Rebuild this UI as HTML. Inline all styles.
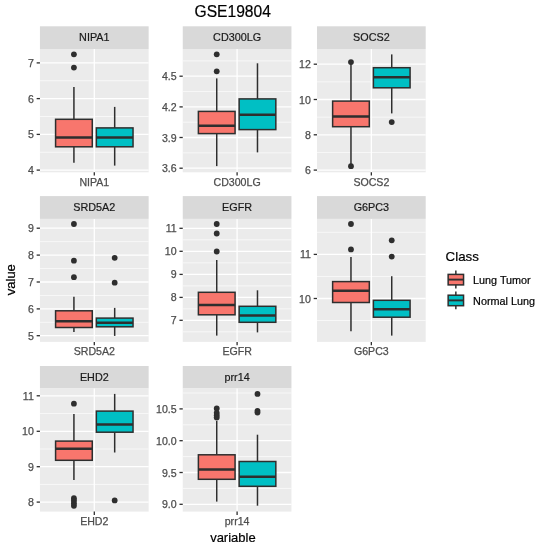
<!DOCTYPE html>
<html lang="en"><head><meta charset="utf-8"><title>GSE19804</title>
<style>html,body{margin:0;padding:0;background:#fff}svg{display:block}</style>
</head><body>
<svg width="539" height="550" viewBox="0 0 539 550" font-family="Liberation Sans, Arial, sans-serif">
<rect width="539" height="550" fill="#fff"/>
<text x="232.7" y="16.7" font-size="15.6" text-anchor="middle" fill="#000" stroke="#000" stroke-width="0.2">GSE19804</text>
<g>
<rect x="39.95" y="26.3" width="108.7" height="22.70" fill="#D9D9D9"/>
<rect x="39.95" y="49.0" width="108.7" height="123.30" fill="#EBEBEB"/>
<line x1="39.95" x2="148.65" y1="80.75" y2="80.75" stroke="#fff" stroke-width="0.65"/>
<line x1="39.95" x2="148.65" y1="116.50" y2="116.50" stroke="#fff" stroke-width="0.65"/>
<line x1="39.95" x2="148.65" y1="152.25" y2="152.25" stroke="#fff" stroke-width="0.65"/>
<line x1="39.95" x2="148.65" y1="62.9" y2="62.9" stroke="#fff" stroke-width="1.3"/>
<line x1="39.95" x2="148.65" y1="98.6" y2="98.6" stroke="#fff" stroke-width="1.3"/>
<line x1="39.95" x2="148.65" y1="134.4" y2="134.4" stroke="#fff" stroke-width="1.3"/>
<line x1="39.95" x2="148.65" y1="170.1" y2="170.1" stroke="#fff" stroke-width="1.3"/>
<line x1="94.30" x2="94.30" y1="49.0" y2="172.3" stroke="#fff" stroke-width="1.3"/>
<circle cx="73.92" cy="54.3" r="2.9" fill="#2E2E2E"/>
<circle cx="73.92" cy="67.6" r="2.9" fill="#2E2E2E"/>
<line x1="73.92" x2="73.92" y1="86.9" y2="119.3" stroke="#2E2E2E" stroke-width="1.5"/>
<line x1="73.92" x2="73.92" y1="146.8" y2="162.7" stroke="#2E2E2E" stroke-width="1.5"/>
<rect x="55.58" y="119.3" width="36.69" height="27.50" fill="#F8766D" stroke="#2E2E2E" stroke-width="1.5"/>
<line x1="55.58" x2="92.26" y1="137.5" y2="137.5" stroke="#2E2E2E" stroke-width="2.5"/>
<line x1="114.68" x2="114.68" y1="106.9" y2="127.9" stroke="#2E2E2E" stroke-width="1.5"/>
<line x1="114.68" x2="114.68" y1="146.8" y2="165.6" stroke="#2E2E2E" stroke-width="1.5"/>
<rect x="96.34" y="127.9" width="36.69" height="18.90" fill="#00BFC4" stroke="#2E2E2E" stroke-width="1.5"/>
<line x1="96.34" x2="133.02" y1="137.4" y2="137.4" stroke="#2E2E2E" stroke-width="2.5"/>
<text x="94.30" y="41.45" font-size="10.8" text-anchor="middle" fill="#1A1A1A" stroke="#1A1A1A" stroke-width="0.2">NIPA1</text>
<line x1="36.65" x2="39.95" y1="62.9" y2="62.9" stroke="#2E2E2E" stroke-width="1.3"/>
<text x="33.85"  y="66.95" font-size="10.6" text-anchor="end" fill="#4D4D4D" stroke="#4D4D4D" stroke-width="0.25">7</text>
<line x1="36.65" x2="39.95" y1="98.6" y2="98.6" stroke="#2E2E2E" stroke-width="1.3"/>
<text x="33.85"  y="102.65" font-size="10.6" text-anchor="end" fill="#4D4D4D" stroke="#4D4D4D" stroke-width="0.25">6</text>
<line x1="36.65" x2="39.95" y1="134.4" y2="134.4" stroke="#2E2E2E" stroke-width="1.3"/>
<text x="33.85"  y="138.45" font-size="10.6" text-anchor="end" fill="#4D4D4D" stroke="#4D4D4D" stroke-width="0.25">5</text>
<line x1="36.65" x2="39.95" y1="170.1" y2="170.1" stroke="#2E2E2E" stroke-width="1.3"/>
<text x="33.85"  y="174.15" font-size="10.6" text-anchor="end" fill="#4D4D4D" stroke="#4D4D4D" stroke-width="0.25">4</text>
<line x1="94.30" x2="94.30" y1="172.3" y2="175.60" stroke="#2E2E2E" stroke-width="1.3"/>
<text x="94.30" y="185.75" font-size="10.6" text-anchor="middle" fill="#4D4D4D" stroke="#4D4D4D" stroke-width="0.25">NIPA1</text>
</g>
<g>
<rect x="182.75" y="26.3" width="108.7" height="22.70" fill="#D9D9D9"/>
<rect x="182.75" y="49.0" width="108.7" height="123.30" fill="#EBEBEB"/>
<line x1="182.75" x2="291.45" y1="91.55" y2="91.55" stroke="#fff" stroke-width="0.65"/>
<line x1="182.75" x2="291.45" y1="122.20" y2="122.20" stroke="#fff" stroke-width="0.65"/>
<line x1="182.75" x2="291.45" y1="152.85" y2="152.85" stroke="#fff" stroke-width="0.65"/>
<line x1="182.75" x2="291.45" y1="60.90" y2="60.90" stroke="#fff" stroke-width="0.65"/>
<line x1="182.75" x2="291.45" y1="76.2" y2="76.2" stroke="#fff" stroke-width="1.3"/>
<line x1="182.75" x2="291.45" y1="106.9" y2="106.9" stroke="#fff" stroke-width="1.3"/>
<line x1="182.75" x2="291.45" y1="137.5" y2="137.5" stroke="#fff" stroke-width="1.3"/>
<line x1="182.75" x2="291.45" y1="168.2" y2="168.2" stroke="#fff" stroke-width="1.3"/>
<line x1="237.10" x2="237.10" y1="49.0" y2="172.3" stroke="#fff" stroke-width="1.3"/>
<circle cx="216.72" cy="54.3" r="2.9" fill="#2E2E2E"/>
<circle cx="216.72" cy="71.3" r="2.9" fill="#2E2E2E"/>
<line x1="216.72" x2="216.72" y1="78.4" y2="111.4" stroke="#2E2E2E" stroke-width="1.5"/>
<line x1="216.72" x2="216.72" y1="133.6" y2="166.1" stroke="#2E2E2E" stroke-width="1.5"/>
<rect x="198.38" y="111.4" width="36.69" height="22.20" fill="#F8766D" stroke="#2E2E2E" stroke-width="1.5"/>
<line x1="198.38" x2="235.06" y1="125.8" y2="125.8" stroke="#2E2E2E" stroke-width="2.5"/>
<line x1="257.48" x2="257.48" y1="63.3" y2="98.9" stroke="#2E2E2E" stroke-width="1.5"/>
<line x1="257.48" x2="257.48" y1="129.6" y2="152.4" stroke="#2E2E2E" stroke-width="1.5"/>
<rect x="239.14" y="98.9" width="36.69" height="30.70" fill="#00BFC4" stroke="#2E2E2E" stroke-width="1.5"/>
<line x1="239.14" x2="275.82" y1="114.7" y2="114.7" stroke="#2E2E2E" stroke-width="2.5"/>
<text x="237.10" y="41.45" font-size="10.8" text-anchor="middle" fill="#1A1A1A" stroke="#1A1A1A" stroke-width="0.2">CD300LG</text>
<line x1="179.45" x2="182.75" y1="76.2" y2="76.2" stroke="#2E2E2E" stroke-width="1.3"/>
<text x="176.65"  y="80.25" font-size="10.6" text-anchor="end" fill="#4D4D4D" stroke="#4D4D4D" stroke-width="0.25">4.5</text>
<line x1="179.45" x2="182.75" y1="106.9" y2="106.9" stroke="#2E2E2E" stroke-width="1.3"/>
<text x="176.65"  y="110.95" font-size="10.6" text-anchor="end" fill="#4D4D4D" stroke="#4D4D4D" stroke-width="0.25">4.2</text>
<line x1="179.45" x2="182.75" y1="137.5" y2="137.5" stroke="#2E2E2E" stroke-width="1.3"/>
<text x="176.65"  y="141.55" font-size="10.6" text-anchor="end" fill="#4D4D4D" stroke="#4D4D4D" stroke-width="0.25">3.9</text>
<line x1="179.45" x2="182.75" y1="168.2" y2="168.2" stroke="#2E2E2E" stroke-width="1.3"/>
<text x="176.65"  y="172.25" font-size="10.6" text-anchor="end" fill="#4D4D4D" stroke="#4D4D4D" stroke-width="0.25">3.6</text>
<line x1="237.10" x2="237.10" y1="172.3" y2="175.60" stroke="#2E2E2E" stroke-width="1.3"/>
<text x="237.10" y="185.75" font-size="10.6" text-anchor="middle" fill="#4D4D4D" stroke="#4D4D4D" stroke-width="0.25">CD300LG</text>
</g>
<g>
<rect x="317.0" y="26.3" width="108.7" height="22.70" fill="#D9D9D9"/>
<rect x="317.0" y="49.0" width="108.7" height="123.30" fill="#EBEBEB"/>
<line x1="317.0" x2="425.7" y1="81.85" y2="81.85" stroke="#fff" stroke-width="0.65"/>
<line x1="317.0" x2="425.7" y1="117.15" y2="117.15" stroke="#fff" stroke-width="0.65"/>
<line x1="317.0" x2="425.7" y1="152.45" y2="152.45" stroke="#fff" stroke-width="0.65"/>
<line x1="317.0" x2="425.7" y1="64.2" y2="64.2" stroke="#fff" stroke-width="1.3"/>
<line x1="317.0" x2="425.7" y1="99.5" y2="99.5" stroke="#fff" stroke-width="1.3"/>
<line x1="317.0" x2="425.7" y1="134.8" y2="134.8" stroke="#fff" stroke-width="1.3"/>
<line x1="317.0" x2="425.7" y1="170.1" y2="170.1" stroke="#fff" stroke-width="1.3"/>
<line x1="371.35" x2="371.35" y1="49.0" y2="172.3" stroke="#fff" stroke-width="1.3"/>
<circle cx="350.97" cy="62.1" r="2.9" fill="#2E2E2E"/>
<circle cx="350.97" cy="166.2" r="2.9" fill="#2E2E2E"/>
<line x1="350.97" x2="350.97" y1="63.0" y2="101.1" stroke="#2E2E2E" stroke-width="1.5"/>
<line x1="350.97" x2="350.97" y1="126.7" y2="165.5" stroke="#2E2E2E" stroke-width="1.5"/>
<rect x="332.63" y="101.1" width="36.69" height="25.60" fill="#F8766D" stroke="#2E2E2E" stroke-width="1.5"/>
<line x1="332.63" x2="369.31" y1="116.5" y2="116.5" stroke="#2E2E2E" stroke-width="2.5"/>
<circle cx="391.73" cy="122.1" r="2.9" fill="#2E2E2E"/>
<line x1="391.73" x2="391.73" y1="54.4" y2="67.7" stroke="#2E2E2E" stroke-width="1.5"/>
<line x1="391.73" x2="391.73" y1="87.8" y2="113.4" stroke="#2E2E2E" stroke-width="1.5"/>
<rect x="373.39" y="67.7" width="36.69" height="20.10" fill="#00BFC4" stroke="#2E2E2E" stroke-width="1.5"/>
<line x1="373.39" x2="410.07" y1="77.3" y2="77.3" stroke="#2E2E2E" stroke-width="2.5"/>
<text x="371.35" y="41.45" font-size="10.8" text-anchor="middle" fill="#1A1A1A" stroke="#1A1A1A" stroke-width="0.2">SOCS2</text>
<line x1="313.70" x2="317.0" y1="64.2" y2="64.2" stroke="#2E2E2E" stroke-width="1.3"/>
<text x="310.90"  y="68.25" font-size="10.6" text-anchor="end" fill="#4D4D4D" stroke="#4D4D4D" stroke-width="0.25">12</text>
<line x1="313.70" x2="317.0" y1="99.5" y2="99.5" stroke="#2E2E2E" stroke-width="1.3"/>
<text x="310.90"  y="103.55" font-size="10.6" text-anchor="end" fill="#4D4D4D" stroke="#4D4D4D" stroke-width="0.25">10</text>
<line x1="313.70" x2="317.0" y1="134.8" y2="134.8" stroke="#2E2E2E" stroke-width="1.3"/>
<text x="310.90"  y="138.85" font-size="10.6" text-anchor="end" fill="#4D4D4D" stroke="#4D4D4D" stroke-width="0.25">8</text>
<line x1="313.70" x2="317.0" y1="170.1" y2="170.1" stroke="#2E2E2E" stroke-width="1.3"/>
<text x="310.90"  y="174.15" font-size="10.6" text-anchor="end" fill="#4D4D4D" stroke="#4D4D4D" stroke-width="0.25">6</text>
<line x1="371.35" x2="371.35" y1="172.3" y2="175.60" stroke="#2E2E2E" stroke-width="1.3"/>
<text x="371.35" y="185.75" font-size="10.6" text-anchor="middle" fill="#4D4D4D" stroke="#4D4D4D" stroke-width="0.25">SOCS2</text>
</g>
<g>
<rect x="39.95" y="196.1" width="108.7" height="22.80" fill="#D9D9D9"/>
<rect x="39.95" y="218.9" width="108.7" height="123.00" fill="#EBEBEB"/>
<line x1="39.95" x2="148.65" y1="241.65" y2="241.65" stroke="#fff" stroke-width="0.65"/>
<line x1="39.95" x2="148.65" y1="268.55" y2="268.55" stroke="#fff" stroke-width="0.65"/>
<line x1="39.95" x2="148.65" y1="295.45" y2="295.45" stroke="#fff" stroke-width="0.65"/>
<line x1="39.95" x2="148.65" y1="322.30" y2="322.30" stroke="#fff" stroke-width="0.65"/>
<line x1="39.95" x2="148.65" y1="228.2" y2="228.2" stroke="#fff" stroke-width="1.3"/>
<line x1="39.95" x2="148.65" y1="255.1" y2="255.1" stroke="#fff" stroke-width="1.3"/>
<line x1="39.95" x2="148.65" y1="282.0" y2="282.0" stroke="#fff" stroke-width="1.3"/>
<line x1="39.95" x2="148.65" y1="308.9" y2="308.9" stroke="#fff" stroke-width="1.3"/>
<line x1="39.95" x2="148.65" y1="335.7" y2="335.7" stroke="#fff" stroke-width="1.3"/>
<line x1="94.30" x2="94.30" y1="218.9" y2="341.9" stroke="#fff" stroke-width="1.3"/>
<circle cx="73.92" cy="224.0" r="2.9" fill="#2E2E2E"/>
<circle cx="73.92" cy="260.7" r="2.9" fill="#2E2E2E"/>
<circle cx="73.92" cy="277.2" r="2.9" fill="#2E2E2E"/>
<line x1="73.92" x2="73.92" y1="296.7" y2="310.8" stroke="#2E2E2E" stroke-width="1.5"/>
<line x1="73.92" x2="73.92" y1="327.5" y2="332.1" stroke="#2E2E2E" stroke-width="1.5"/>
<rect x="55.58" y="310.8" width="36.69" height="16.70" fill="#F8766D" stroke="#2E2E2E" stroke-width="1.5"/>
<line x1="55.58" x2="92.26" y1="321.2" y2="321.2" stroke="#2E2E2E" stroke-width="2.5"/>
<circle cx="114.68" cy="257.8" r="2.9" fill="#2E2E2E"/>
<circle cx="114.68" cy="282.7" r="2.9" fill="#2E2E2E"/>
<line x1="114.68" x2="114.68" y1="307.9" y2="318.1" stroke="#2E2E2E" stroke-width="1.5"/>
<line x1="114.68" x2="114.68" y1="326.8" y2="335.9" stroke="#2E2E2E" stroke-width="1.5"/>
<rect x="96.34" y="318.1" width="36.69" height="8.70" fill="#00BFC4" stroke="#2E2E2E" stroke-width="1.5"/>
<line x1="96.34" x2="133.02" y1="322.8" y2="322.8" stroke="#2E2E2E" stroke-width="2.5"/>
<text x="94.30" y="211.30" font-size="10.8" text-anchor="middle" fill="#1A1A1A" stroke="#1A1A1A" stroke-width="0.2">SRD5A2</text>
<line x1="36.65" x2="39.95" y1="228.2" y2="228.2" stroke="#2E2E2E" stroke-width="1.3"/>
<text x="33.85"  y="232.25" font-size="10.6" text-anchor="end" fill="#4D4D4D" stroke="#4D4D4D" stroke-width="0.25">9</text>
<line x1="36.65" x2="39.95" y1="255.1" y2="255.1" stroke="#2E2E2E" stroke-width="1.3"/>
<text x="33.85"  y="259.15" font-size="10.6" text-anchor="end" fill="#4D4D4D" stroke="#4D4D4D" stroke-width="0.25">8</text>
<line x1="36.65" x2="39.95" y1="282.0" y2="282.0" stroke="#2E2E2E" stroke-width="1.3"/>
<text x="33.85"  y="286.05" font-size="10.6" text-anchor="end" fill="#4D4D4D" stroke="#4D4D4D" stroke-width="0.25">7</text>
<line x1="36.65" x2="39.95" y1="308.9" y2="308.9" stroke="#2E2E2E" stroke-width="1.3"/>
<text x="33.85"  y="312.95" font-size="10.6" text-anchor="end" fill="#4D4D4D" stroke="#4D4D4D" stroke-width="0.25">6</text>
<line x1="36.65" x2="39.95" y1="335.7" y2="335.7" stroke="#2E2E2E" stroke-width="1.3"/>
<text x="33.85"  y="339.75" font-size="10.6" text-anchor="end" fill="#4D4D4D" stroke="#4D4D4D" stroke-width="0.25">5</text>
<line x1="94.30" x2="94.30" y1="341.9" y2="345.20" stroke="#2E2E2E" stroke-width="1.3"/>
<text x="94.30" y="355.35" font-size="10.6" text-anchor="middle" fill="#4D4D4D" stroke="#4D4D4D" stroke-width="0.25">SRD5A2</text>
</g>
<g>
<rect x="182.75" y="196.1" width="108.7" height="22.80" fill="#D9D9D9"/>
<rect x="182.75" y="218.9" width="108.7" height="123.00" fill="#EBEBEB"/>
<line x1="182.75" x2="291.45" y1="239.80" y2="239.80" stroke="#fff" stroke-width="0.65"/>
<line x1="182.75" x2="291.45" y1="262.85" y2="262.85" stroke="#fff" stroke-width="0.65"/>
<line x1="182.75" x2="291.45" y1="285.90" y2="285.90" stroke="#fff" stroke-width="0.65"/>
<line x1="182.75" x2="291.45" y1="308.85" y2="308.85" stroke="#fff" stroke-width="0.65"/>
<line x1="182.75" x2="291.45" y1="331.80" y2="331.80" stroke="#fff" stroke-width="0.65"/>
<line x1="182.75" x2="291.45" y1="228.3" y2="228.3" stroke="#fff" stroke-width="1.3"/>
<line x1="182.75" x2="291.45" y1="251.3" y2="251.3" stroke="#fff" stroke-width="1.3"/>
<line x1="182.75" x2="291.45" y1="274.4" y2="274.4" stroke="#fff" stroke-width="1.3"/>
<line x1="182.75" x2="291.45" y1="297.4" y2="297.4" stroke="#fff" stroke-width="1.3"/>
<line x1="182.75" x2="291.45" y1="320.3" y2="320.3" stroke="#fff" stroke-width="1.3"/>
<line x1="237.10" x2="237.10" y1="218.9" y2="341.9" stroke="#fff" stroke-width="1.3"/>
<circle cx="216.72" cy="224.0" r="2.9" fill="#2E2E2E"/>
<circle cx="216.72" cy="233.5" r="2.9" fill="#2E2E2E"/>
<circle cx="216.72" cy="251.5" r="2.9" fill="#2E2E2E"/>
<line x1="216.72" x2="216.72" y1="260.0" y2="292.3" stroke="#2E2E2E" stroke-width="1.5"/>
<line x1="216.72" x2="216.72" y1="314.8" y2="335.6" stroke="#2E2E2E" stroke-width="1.5"/>
<rect x="198.38" y="292.3" width="36.69" height="22.50" fill="#F8766D" stroke="#2E2E2E" stroke-width="1.5"/>
<line x1="198.38" x2="235.06" y1="305.0" y2="305.0" stroke="#2E2E2E" stroke-width="2.5"/>
<line x1="257.48" x2="257.48" y1="290.3" y2="306.3" stroke="#2E2E2E" stroke-width="1.5"/>
<line x1="257.48" x2="257.48" y1="322.3" y2="332.4" stroke="#2E2E2E" stroke-width="1.5"/>
<rect x="239.14" y="306.3" width="36.69" height="16.00" fill="#00BFC4" stroke="#2E2E2E" stroke-width="1.5"/>
<line x1="239.14" x2="275.82" y1="315.4" y2="315.4" stroke="#2E2E2E" stroke-width="2.5"/>
<text x="237.10" y="211.30" font-size="10.8" text-anchor="middle" fill="#1A1A1A" stroke="#1A1A1A" stroke-width="0.2">EGFR</text>
<line x1="179.45" x2="182.75" y1="228.3" y2="228.3" stroke="#2E2E2E" stroke-width="1.3"/>
<text x="176.65"  y="232.35" font-size="10.6" text-anchor="end" fill="#4D4D4D" stroke="#4D4D4D" stroke-width="0.25">11</text>
<line x1="179.45" x2="182.75" y1="251.3" y2="251.3" stroke="#2E2E2E" stroke-width="1.3"/>
<text x="176.65"  y="255.35" font-size="10.6" text-anchor="end" fill="#4D4D4D" stroke="#4D4D4D" stroke-width="0.25">10</text>
<line x1="179.45" x2="182.75" y1="274.4" y2="274.4" stroke="#2E2E2E" stroke-width="1.3"/>
<text x="176.65"  y="278.45" font-size="10.6" text-anchor="end" fill="#4D4D4D" stroke="#4D4D4D" stroke-width="0.25">9</text>
<line x1="179.45" x2="182.75" y1="297.4" y2="297.4" stroke="#2E2E2E" stroke-width="1.3"/>
<text x="176.65"  y="301.45" font-size="10.6" text-anchor="end" fill="#4D4D4D" stroke="#4D4D4D" stroke-width="0.25">8</text>
<line x1="179.45" x2="182.75" y1="320.3" y2="320.3" stroke="#2E2E2E" stroke-width="1.3"/>
<text x="176.65"  y="324.35" font-size="10.6" text-anchor="end" fill="#4D4D4D" stroke="#4D4D4D" stroke-width="0.25">7</text>
<line x1="237.10" x2="237.10" y1="341.9" y2="345.20" stroke="#2E2E2E" stroke-width="1.3"/>
<text x="237.10" y="355.35" font-size="10.6" text-anchor="middle" fill="#4D4D4D" stroke="#4D4D4D" stroke-width="0.25">EGFR</text>
</g>
<g>
<rect x="317.0" y="196.1" width="108.7" height="22.80" fill="#D9D9D9"/>
<rect x="317.0" y="218.9" width="108.7" height="123.00" fill="#EBEBEB"/>
<line x1="317.0" x2="425.7" y1="276.45" y2="276.45" stroke="#fff" stroke-width="0.65"/>
<line x1="317.0" x2="425.7" y1="232.30" y2="232.30" stroke="#fff" stroke-width="0.65"/>
<line x1="317.0" x2="425.7" y1="320.50" y2="320.50" stroke="#fff" stroke-width="0.65"/>
<line x1="317.0" x2="425.7" y1="254.4" y2="254.4" stroke="#fff" stroke-width="1.3"/>
<line x1="317.0" x2="425.7" y1="298.5" y2="298.5" stroke="#fff" stroke-width="1.3"/>
<line x1="371.35" x2="371.35" y1="218.9" y2="341.9" stroke="#fff" stroke-width="1.3"/>
<circle cx="350.97" cy="224.0" r="2.9" fill="#2E2E2E"/>
<circle cx="350.97" cy="249.4" r="2.9" fill="#2E2E2E"/>
<line x1="350.97" x2="350.97" y1="256.9" y2="281.6" stroke="#2E2E2E" stroke-width="1.5"/>
<line x1="350.97" x2="350.97" y1="302.5" y2="331.3" stroke="#2E2E2E" stroke-width="1.5"/>
<rect x="332.63" y="281.6" width="36.69" height="20.90" fill="#F8766D" stroke="#2E2E2E" stroke-width="1.5"/>
<line x1="332.63" x2="369.31" y1="290.7" y2="290.7" stroke="#2E2E2E" stroke-width="2.5"/>
<circle cx="391.73" cy="240.3" r="2.9" fill="#2E2E2E"/>
<circle cx="391.73" cy="256.6" r="2.9" fill="#2E2E2E"/>
<line x1="391.73" x2="391.73" y1="276.2" y2="300.3" stroke="#2E2E2E" stroke-width="1.5"/>
<line x1="391.73" x2="391.73" y1="317.2" y2="335.6" stroke="#2E2E2E" stroke-width="1.5"/>
<rect x="373.39" y="300.3" width="36.69" height="16.90" fill="#00BFC4" stroke="#2E2E2E" stroke-width="1.5"/>
<line x1="373.39" x2="410.07" y1="309.2" y2="309.2" stroke="#2E2E2E" stroke-width="2.5"/>
<text x="371.35" y="211.30" font-size="10.8" text-anchor="middle" fill="#1A1A1A" stroke="#1A1A1A" stroke-width="0.2">G6PC3</text>
<line x1="313.70" x2="317.0" y1="254.4" y2="254.4" stroke="#2E2E2E" stroke-width="1.3"/>
<text x="310.90"  y="258.45" font-size="10.6" text-anchor="end" fill="#4D4D4D" stroke="#4D4D4D" stroke-width="0.25">11</text>
<line x1="313.70" x2="317.0" y1="298.5" y2="298.5" stroke="#2E2E2E" stroke-width="1.3"/>
<text x="310.90"  y="302.55" font-size="10.6" text-anchor="end" fill="#4D4D4D" stroke="#4D4D4D" stroke-width="0.25">10</text>
<line x1="371.35" x2="371.35" y1="341.9" y2="345.20" stroke="#2E2E2E" stroke-width="1.3"/>
<text x="371.35" y="355.35" font-size="10.6" text-anchor="middle" fill="#4D4D4D" stroke="#4D4D4D" stroke-width="0.25">G6PC3</text>
</g>
<g>
<rect x="39.95" y="366.0" width="108.7" height="22.50" fill="#D9D9D9"/>
<rect x="39.95" y="388.5" width="108.7" height="123.10" fill="#EBEBEB"/>
<line x1="39.95" x2="148.65" y1="413.55" y2="413.55" stroke="#fff" stroke-width="0.65"/>
<line x1="39.95" x2="148.65" y1="449.00" y2="449.00" stroke="#fff" stroke-width="0.65"/>
<line x1="39.95" x2="148.65" y1="484.40" y2="484.40" stroke="#fff" stroke-width="0.65"/>
<line x1="39.95" x2="148.65" y1="395.8" y2="395.8" stroke="#fff" stroke-width="1.3"/>
<line x1="39.95" x2="148.65" y1="431.3" y2="431.3" stroke="#fff" stroke-width="1.3"/>
<line x1="39.95" x2="148.65" y1="466.7" y2="466.7" stroke="#fff" stroke-width="1.3"/>
<line x1="39.95" x2="148.65" y1="502.1" y2="502.1" stroke="#fff" stroke-width="1.3"/>
<line x1="94.30" x2="94.30" y1="388.5" y2="511.6" stroke="#fff" stroke-width="1.3"/>
<circle cx="73.92" cy="403.7" r="2.9" fill="#2E2E2E"/>
<circle cx="73.92" cy="498.2" r="2.9" fill="#2E2E2E"/>
<circle cx="73.92" cy="500.6" r="2.9" fill="#2E2E2E"/>
<circle cx="73.92" cy="503.2" r="2.9" fill="#2E2E2E"/>
<circle cx="73.92" cy="505.8" r="2.9" fill="#2E2E2E"/>
<line x1="73.92" x2="73.92" y1="414.0" y2="441.1" stroke="#2E2E2E" stroke-width="1.5"/>
<line x1="73.92" x2="73.92" y1="460.3" y2="480.1" stroke="#2E2E2E" stroke-width="1.5"/>
<rect x="55.58" y="441.1" width="36.69" height="19.20" fill="#F8766D" stroke="#2E2E2E" stroke-width="1.5"/>
<line x1="55.58" x2="92.26" y1="448.7" y2="448.7" stroke="#2E2E2E" stroke-width="2.5"/>
<circle cx="114.68" cy="500.4" r="2.9" fill="#2E2E2E"/>
<line x1="114.68" x2="114.68" y1="393.9" y2="411.1" stroke="#2E2E2E" stroke-width="1.5"/>
<line x1="114.68" x2="114.68" y1="432.2" y2="452.5" stroke="#2E2E2E" stroke-width="1.5"/>
<rect x="96.34" y="411.1" width="36.69" height="21.10" fill="#00BFC4" stroke="#2E2E2E" stroke-width="1.5"/>
<line x1="96.34" x2="133.02" y1="424.4" y2="424.4" stroke="#2E2E2E" stroke-width="2.5"/>
<text x="94.30" y="381.05" font-size="10.8" text-anchor="middle" fill="#1A1A1A" stroke="#1A1A1A" stroke-width="0.2">EHD2</text>
<line x1="36.65" x2="39.95" y1="395.8" y2="395.8" stroke="#2E2E2E" stroke-width="1.3"/>
<text x="33.85"  y="399.85" font-size="10.6" text-anchor="end" fill="#4D4D4D" stroke="#4D4D4D" stroke-width="0.25">11</text>
<line x1="36.65" x2="39.95" y1="431.3" y2="431.3" stroke="#2E2E2E" stroke-width="1.3"/>
<text x="33.85"  y="435.35" font-size="10.6" text-anchor="end" fill="#4D4D4D" stroke="#4D4D4D" stroke-width="0.25">10</text>
<line x1="36.65" x2="39.95" y1="466.7" y2="466.7" stroke="#2E2E2E" stroke-width="1.3"/>
<text x="33.85"  y="470.75" font-size="10.6" text-anchor="end" fill="#4D4D4D" stroke="#4D4D4D" stroke-width="0.25">9</text>
<line x1="36.65" x2="39.95" y1="502.1" y2="502.1" stroke="#2E2E2E" stroke-width="1.3"/>
<text x="33.85"  y="506.15" font-size="10.6" text-anchor="end" fill="#4D4D4D" stroke="#4D4D4D" stroke-width="0.25">8</text>
<line x1="94.30" x2="94.30" y1="511.6" y2="514.90" stroke="#2E2E2E" stroke-width="1.3"/>
<text x="94.30" y="525.05" font-size="10.6" text-anchor="middle" fill="#4D4D4D" stroke="#4D4D4D" stroke-width="0.25">EHD2</text>
</g>
<g>
<rect x="182.75" y="366.0" width="108.7" height="22.50" fill="#D9D9D9"/>
<rect x="182.75" y="388.5" width="108.7" height="123.10" fill="#EBEBEB"/>
<line x1="182.75" x2="291.45" y1="424.80" y2="424.80" stroke="#fff" stroke-width="0.65"/>
<line x1="182.75" x2="291.45" y1="456.60" y2="456.60" stroke="#fff" stroke-width="0.65"/>
<line x1="182.75" x2="291.45" y1="488.40" y2="488.40" stroke="#fff" stroke-width="0.65"/>
<line x1="182.75" x2="291.45" y1="393.00" y2="393.00" stroke="#fff" stroke-width="0.65"/>
<line x1="182.75" x2="291.45" y1="408.9" y2="408.9" stroke="#fff" stroke-width="1.3"/>
<line x1="182.75" x2="291.45" y1="440.7" y2="440.7" stroke="#fff" stroke-width="1.3"/>
<line x1="182.75" x2="291.45" y1="472.5" y2="472.5" stroke="#fff" stroke-width="1.3"/>
<line x1="182.75" x2="291.45" y1="504.3" y2="504.3" stroke="#fff" stroke-width="1.3"/>
<line x1="237.10" x2="237.10" y1="388.5" y2="511.6" stroke="#fff" stroke-width="1.3"/>
<circle cx="216.72" cy="408.4" r="2.9" fill="#2E2E2E"/>
<circle cx="216.72" cy="412.8" r="2.9" fill="#2E2E2E"/>
<circle cx="216.72" cy="415.2" r="2.9" fill="#2E2E2E"/>
<circle cx="216.72" cy="417.6" r="2.9" fill="#2E2E2E"/>
<line x1="216.72" x2="216.72" y1="421.0" y2="454.8" stroke="#2E2E2E" stroke-width="1.5"/>
<line x1="216.72" x2="216.72" y1="479.3" y2="501.6" stroke="#2E2E2E" stroke-width="1.5"/>
<rect x="198.38" y="454.8" width="36.69" height="24.50" fill="#F8766D" stroke="#2E2E2E" stroke-width="1.5"/>
<line x1="198.38" x2="235.06" y1="469.6" y2="469.6" stroke="#2E2E2E" stroke-width="2.5"/>
<circle cx="257.48" cy="393.9" r="2.9" fill="#2E2E2E"/>
<circle cx="257.48" cy="410.8" r="2.9" fill="#2E2E2E"/>
<circle cx="257.48" cy="412.6" r="2.9" fill="#2E2E2E"/>
<line x1="257.48" x2="257.48" y1="434.7" y2="461.5" stroke="#2E2E2E" stroke-width="1.5"/>
<line x1="257.48" x2="257.48" y1="486.3" y2="505.7" stroke="#2E2E2E" stroke-width="1.5"/>
<rect x="239.14" y="461.5" width="36.69" height="24.80" fill="#00BFC4" stroke="#2E2E2E" stroke-width="1.5"/>
<line x1="239.14" x2="275.82" y1="476.8" y2="476.8" stroke="#2E2E2E" stroke-width="2.5"/>
<text x="237.10" y="381.05" font-size="10.8" text-anchor="middle" fill="#1A1A1A" stroke="#1A1A1A" stroke-width="0.2">prr14</text>
<line x1="179.45" x2="182.75" y1="408.9" y2="408.9" stroke="#2E2E2E" stroke-width="1.3"/>
<text x="176.65"  y="412.95" font-size="10.6" text-anchor="end" fill="#4D4D4D" stroke="#4D4D4D" stroke-width="0.25">10.5</text>
<line x1="179.45" x2="182.75" y1="440.7" y2="440.7" stroke="#2E2E2E" stroke-width="1.3"/>
<text x="176.65"  y="444.75" font-size="10.6" text-anchor="end" fill="#4D4D4D" stroke="#4D4D4D" stroke-width="0.25">10.0</text>
<line x1="179.45" x2="182.75" y1="472.5" y2="472.5" stroke="#2E2E2E" stroke-width="1.3"/>
<text x="176.65"  y="476.55" font-size="10.6" text-anchor="end" fill="#4D4D4D" stroke="#4D4D4D" stroke-width="0.25">9.5</text>
<line x1="179.45" x2="182.75" y1="504.3" y2="504.3" stroke="#2E2E2E" stroke-width="1.3"/>
<text x="176.65"  y="508.35" font-size="10.6" text-anchor="end" fill="#4D4D4D" stroke="#4D4D4D" stroke-width="0.25">9.0</text>
<line x1="237.10" x2="237.10" y1="511.6" y2="514.90" stroke="#2E2E2E" stroke-width="1.3"/>
<text x="237.10" y="525.05" font-size="10.6" text-anchor="middle" fill="#4D4D4D" stroke="#4D4D4D" stroke-width="0.25">prr14</text>
</g>
<text x="232.9" y="541.5" font-size="13.0" text-anchor="middle" fill="#000" stroke="#000" stroke-width="0.2">variable</text>
<text transform="translate(15.2,279.7) rotate(-90)" font-size="13.0" text-anchor="middle" fill="#000" stroke="#000" stroke-width="0.25">value</text>
<text x="445.6" y="260.8" font-size="13.3" fill="#000" stroke="#000" stroke-width="0.2">Class</text>
<line x1="455.85" x2="455.85" y1="270.60" y2="288.40" stroke="#2E2E2E" stroke-width="1.5"/>
<rect x="448.15" y="274.40" width="15.4" height="10.5" fill="#F8766D" stroke="#2E2E2E" stroke-width="1.5"/>
<line x1="448.15" x2="463.55" y1="279.60" y2="279.60" stroke="#2E2E2E" stroke-width="1.9"/>
<text x="473.1" y="283.80" font-size="10.8" fill="#000" stroke="#000" stroke-width="0.2">Lung Tumor</text>
<line x1="455.85" x2="455.85" y1="291.40" y2="309.20" stroke="#2E2E2E" stroke-width="1.5"/>
<rect x="448.15" y="295.20" width="15.4" height="10.5" fill="#00BFC4" stroke="#2E2E2E" stroke-width="1.5"/>
<line x1="448.15" x2="463.55" y1="300.40" y2="300.40" stroke="#2E2E2E" stroke-width="1.9"/>
<text x="473.1" y="304.60" font-size="10.8" fill="#000" stroke="#000" stroke-width="0.2">Normal Lung</text>
</svg>
</body></html>
